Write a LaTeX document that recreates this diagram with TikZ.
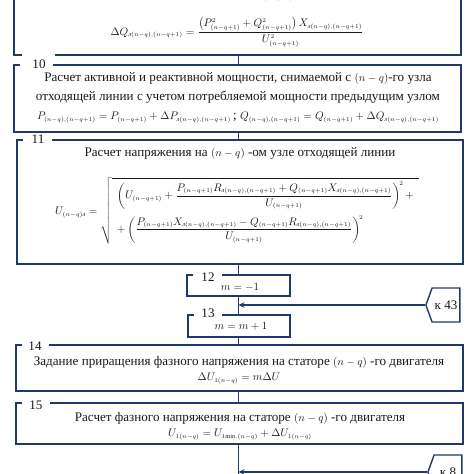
\documentclass[tikz,border=0pt]{standalone}
\usepackage{amsmath}
\usepackage{fontspec}
\setmainfont{Liberation Serif}
\usetikzlibrary{calc,arrows.meta,shapes.symbols}
\DeclareMathSizes{13.1}{11.4}{6.4}{5}
\definecolor{ink}{HTML}{1F3A6A}
\definecolor{txt}{HTML}{1A1A1A}
\newcommand\nqa{(n-q+1)}
\newcommand\lnqa{\text{\itshape л}(n-q),(n-q+1)}
\newcommand\blkframe[2]{%
  \draw[frame] ($(#2.east |- #1.north)+(7,0)$) -- (#1.north east) -- (#1.south east)
    -- (#1.south west) -- (#1.north west) -- ++(6,0);}

\begin{document}
\begin{tikzpicture}[x=1pt,y=-1pt,font=\fontsize{13.1}{15}\selectfont,text=txt,
  blk/.style={inner sep=0,outer sep=0},
  frame/.style={ink,line width=1.4pt},
  line/.style={ink,line width=1.2pt},
  arr/.style={line,-{Stealth[length=6pt,width=5.5pt]}},
  num/.style={inner sep=0},
  go/.style={signal,signal to=west,signal pointer angle=140,draw=ink,line width=1.4pt,
    inner sep=0,minimum height=34,minimum width=34}]
  \useasboundingbox (0,0) rectangle (474,474);
  \fill[white] (0,0) rectangle (474,474);
  \clip (0,0) rectangle (474,474);

  % 9 (cut at the top)
  \node[blk,minimum width=447,minimum height=115] (b9) at (237.5,-2.5) {};
  \node (tq) at (278,-2) {$\scriptstyle\nqa$};
  \node (f9) at (237,32) {$\displaystyle \Delta Q_{\lnqa}=\frac{\left(P^2_{\nqa}+Q^2_{\nqa}\right)X_{\lnqa}}{U^2_{\nqa}}$};
  \draw[frame] (b9.north west) -- (b9.south west) -- ++(8,0);
  \draw[frame] ($(b9.south west)+(41,0)$) -- (b9.south east) -- (b9.north east);

  % 10
  \node[blk,minimum width=447,minimum height=67] (b10) at (237.5,98.5) {};
  \node[num] (n10) at (39,64) {10};
  \node[align=center] (t10) at (238,98) {Расчет активной и реактивной мощности, снимаемой с $(n-q)$-го узла\\[4pt]
    отходящей линии с учетом потребляемой мощности предыдущим узлом\\[4pt]
    $P_{(n-q),\nqa}=P_{\nqa}+\Delta P_{\lnqa}$\,; $Q_{(n-q),\nqa}=Q_{\nqa}+\Delta Q_{\lnqa}$};
  \blkframe{b10}{n10}

  % 11
  \node[blk,minimum width=446,minimum height=124] (b11) at (240,202) {};
  \node[num] (n11) at (38,139) {11};
  \node (t11) at (240,153) {Расчет напряжения на $(n-q)$ -ом узле отходящей линии};
  \node (f11) at (237,211) {$\displaystyle U_{(n-q)\text{\itshape л}}=\sqrt{\begin{array}{l}
    \left(U_{\nqa}+\dfrac{P_{\nqa}R_{\lnqa}+Q_{\nqa}X_{\lnqa}}{U_{\nqa}}\right)^{\!2}+\\[12pt]
    +\left(\dfrac{P_{\nqa}X_{\lnqa}-Q_{\nqa}R_{\lnqa}}{U_{\nqa}}\right)^{\!2}
    \end{array}}$};
  \blkframe{b11}{n11}

  % 12, 13
  \node[blk,minimum width=103,minimum height=21] (b12) at (238.5,285.5) {};
  \node[num] (n12) at (208,277) {12};
  \node (t12) at (240,287) {$m=-1$};
  \blkframe{b12}{n12}
  \node[go] (k43) at (446,305) {к 43};
  \coordinate (j1) at (b12 |- k43.west);
  \node[blk,minimum width=102,minimum height=22] (b13) at (239,326) {};
  \node[num] (n13) at (208,313) {13};
  \node (t13) at (241,326) {$m=m+1$};
  \blkframe{b13}{n13}

  % 14
  \node[blk,minimum width=447,minimum height=46] (b14) at (239.5,368) {};
  \node[num] (n14) at (35,346) {14};
  \node[align=center] (t14) at (239,370) {Задание приращения фазного напряжения на статоре $(n-q)$ -го двигателя\\
    $\Delta U_{1(n-q)}=m\Delta U$};
  \blkframe{b14}{n14}

  % 15
  \node[blk,minimum width=447,minimum height=41] (b15) at (239.5,423.5) {};
  \node[num] (n15) at (36,405) {15};
  \node[align=center] (t15) at (240,426) {Расчет фазного напряжения на статоре $(n-q)$ -го двигателя\\
    $U_{1(n-q)}=U_{1\mathrm{min.}(n-q)}+\Delta U_{1(n-q)}$};
  \blkframe{b15}{n15}
  \node[go] (k8) at (448,472) {к 8};
  \coordinate (j2) at (b12 |- k8.west);
  \coordinate (nxt) at (b12 |- 0,490);

  % links
  \draw[line] (b9.south -| b12) -- (b10.north -| b12);
  \draw[line] (b10.south -| b12) -- (b11.north -| b12);
  \draw[line] (b11.south -| b12) -- (b12.north);
  \draw[line] (b12.south) -- (b13.north -| b12);
  \draw[line] (b13.south -| b12) -- (b14.north -| b12);
  \draw[line] (b14.south -| b12) -- (b15.north -| b12);
  \draw[line] (b15.south -| b12) -- (nxt);
  \draw[arr] (k43.west) -- (j1);
  \draw[arr] (k8.west) -- (j2);
\end{tikzpicture}
\end{document}
